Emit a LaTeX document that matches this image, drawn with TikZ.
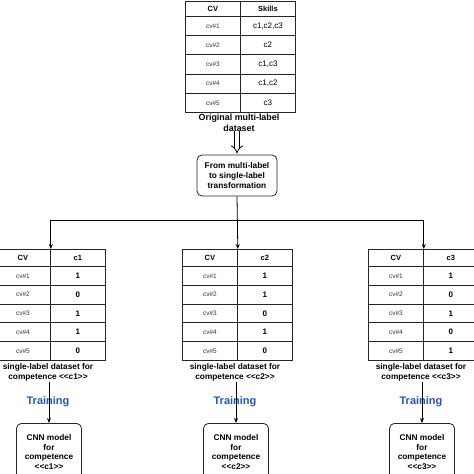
\documentclass[tikz,border=0pt]{standalone}
\usepackage{fontspec}
\setmainfont{Liberation Sans}[Ligatures=TeXOff]
\usetikzlibrary{arrows.meta,positioning}
\tikzset{>={Stealth[length=5pt,width=4pt]}}
\definecolor{trainblue}{RGB}{35,85,190}
\tikzset{
  cell/.style={draw=black!85, line width=0.8pt, minimum width=55pt, minimum height=#1,
    inner sep=0pt, anchor=north west},
  hd/.style={font=\fontsize{7.5}{8}\selectfont\bfseries},
  cvtxt/.style={font=\fontsize{6.5}{7}\selectfont, text=black!80},
  val/.style={font=\fontsize{8}{9}\selectfont\bfseries},
  skl/.style={font=\fontsize{8}{9}\selectfont},
  caption/.style={font=\fontsize{8.3}{10.5}\selectfont\bfseries, align=center, inner sep=0pt},
  procbox/.style={draw=black!85, line width=0.8pt, rounded corners=5pt, align=center,
    inner sep=1pt, font=\fontsize{8.3}{9.6}\selectfont\bfseries},
  train/.style={font=\fontsize{11}{12}\selectfont\bfseries, text=trainblue}
}

\begin{document}
\begin{tikzpicture}[x=1pt,y=-1pt]
  \useasboundingbox (0,0) rectangle (474,474);
  % original multi-label table
  \node[cell=15, hd] (o-h-1) at (185,1) {CV};
  \node[cell=15, hd] (o-h-2) at (240,1) {Skills};
  \foreach \cv/\sk [count=\i] in {cv\#1/{c1,c2,c3}, cv\#2/c2, cv\#3/{c1,c3}, cv\#4/{c1,c2}, cv\#5/c3}{
    \pgfmathsetmacro\y{16+(\i-1)*19.2}
    \node[cell=19.2, cvtxt] (o-\i-1) at (185,\y) {\cv};
    \node[cell=19.2, skl] (o-\i-2) at (240,\y) {\sk};
  }
  \node[caption, anchor=north, font=\fontsize{8.9}{10.8}\selectfont\bfseries] (o-cap) at (239,114) {Original multi-label\\dataset};
  \node[procbox, minimum width=80pt, minimum height=41pt] (conv) at (237,175.5)
    {From multi-label\\to single-label\\transformation};
  \draw[double, double distance=3.5pt, line width=0.8pt, -Implies] ([yshift=1pt]conv |- o-cap.south) -- ([yshift=1pt]conv.north);
  % single-label tables
  \foreach \tb/\x/\c/\vals in {l/-5/c1/{1,0,1,1,0}, m/182/c2/{1,1,0,1,0}, r/368/c3/{1,0,1,0,1}}{
    \node[cell=17, hd] (\tb-h-1) at (\x,249) {CV};
    \node[cell=17, hd] (\tb-h-2) at (\x+55,249) {\c};
    \foreach \v [count=\i] in \vals{
      \pgfmathsetmacro\y{266+(\i-1)*18.8}
      \node[cell=18.8, cvtxt] (\tb-\i-1) at (\x,\y) {cv\#\i};
      \node[cell=18.8, val] (\tb-\i-2) at (\x+55,\y) {\v};
    }
    \node[caption, anchor=north] (\tb-cap) at (\x+53,363) {single-label dataset for\\competence <<\c>>};
    \node[procbox, anchor=north, minimum width=65pt, minimum height=57pt] (\tb-cnn) at (\x+54,423)
      {CNN model\\for\\competence\\<<\c>>};
    \node[train] (\tb-train) at (\x+53,402) {Training};
    \draw[->, line width=0.8pt] (\tb-cnn.north |- \tb-cap.south) -- (\tb-cnn.north);
  }
  \coordinate (split) at (237,220);
  \draw[line width=0.8pt] (l-h-1.north east |- split) -- (r-h-1.north east |- split);
  \begin{scope}[->, line width=0.8pt]
    \draw (l-h-1.north east |- split) -- (l-h-1.north east);
    \draw (conv.south) -- (m-h-1.north east);
    \draw (r-h-1.north east |- split) -- (r-h-1.north east);
  \end{scope}
\end{tikzpicture}
\end{document}
